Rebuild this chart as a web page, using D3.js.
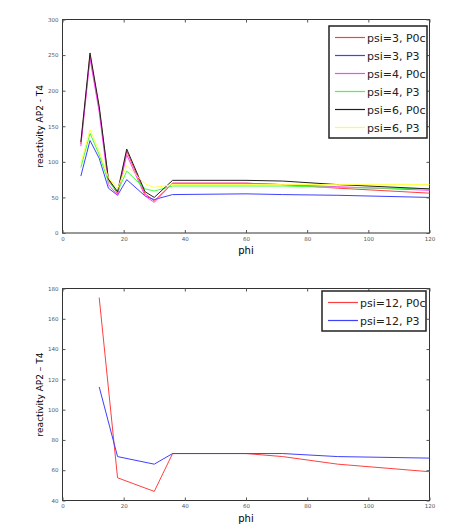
<!DOCTYPE html>
<html>
<head>
<script src="https://d3js.org/d3.v7.min.js"></script>
<style>body{margin:0;background:#fff}</style>
</head>
<body>
<script>
// top plot: phi values and series
var phiTop = [6, 9, 12, 15, 18, 21, 27, 30, 36, 60, 72, 90, 120];
var psi3P0c = [125, 250, 175, 75, 55, 115, 55, 45, 70, 70, 68, 63, 56];
var psi3P3  = [80, 130, 105, 63, 53, 75, 52, 47, 54, 55, 54, 53, 50];
var psi4P0c = [122, 245, 170, 68, 53, 110, 52, 43, 70, 70, 68, 65, 60];
var psi4P3  = [92, 140, 110, 72, 58, 87, 62, 59, 66, 66, 66, 64, 62];
var psi6P0c = [128, 253, 178, 76, 58, 118, 58, 50, 74, 74, 73, 68, 62];
var psi6P3  = [98, 145, 115, 78, 62, 95, 69, 64, 68, 68, 68, 68, 68];
// bottom plot
var phiBot = [12, 18, 30, 36, 60, 72, 90, 120];
var psi12P0c = [174, 55, 46, 71, 71, 69, 64, 59];
var psi12P3  = [115, 69, 64, 71, 71, 71, 69, 68];

var topSeries = [
  {name: "psi=3, P0c", color: "#ff4040", v: psi3P0c},
  {name: "psi=3, P3", color: "#4040ff", v: psi3P3},
  {name: "psi=4, P0c", color: "#ff40ff", v: psi4P0c},
  {name: "psi=4, P3", color: "#40ff40", v: psi4P3},
  {name: "psi=6, P0c", color: "#202020", v: psi6P0c},
  {name: "psi=6, P3", color: "#ffff40", v: psi6P3}
];
var botSeries = [
  {name: "psi=12, P0c", color: "#ff4040", v: psi12P0c},
  {name: "psi=12, P3", color: "#4040ff", v: psi12P3}
];

var svg = d3.select("body").append("svg").attr("width", 474).attr("height", 529);

function panel(o) {
  var x = d3.scaleLinear().domain([0, 120]).range([62.5, 429.5]);
  var y = d3.scaleLinear().domain(o.ydom).range([o.y1, o.y0]);
  var g = svg.append("g");
  g.append("rect").attr("x", 62.5).attr("y", o.y0).attr("width", 367).attr("height", o.y1 - o.y0)
    .attr("fill", "none").attr("stroke", "#333").attr("stroke-width", 1);
  var ax = [
    [d3.axisBottom(x).ticks(6), "translate(0," + o.y1 + ")", true],
    [d3.axisTop(x).ticks(6).tickFormat(""), "translate(0," + o.y0 + ")", false],
    [d3.axisLeft(y).tickValues(o.yticks), "translate(62.5,0)", true],
    [d3.axisRight(y).tickValues(o.yticks).tickFormat(""), "translate(429.5,0)", false]
  ];
  ax.forEach(function (a) {
    var s = g.append("g").attr("transform", a[1]).call(a[0].tickSizeInner(-3).tickSizeOuter(0).tickPadding(4));
    s.select(".domain").remove();
    s.selectAll("line").attr("stroke", "#555");
    s.selectAll("text").attr("font-size", 5.5).attr("fill", "#555").attr("font-family", "DejaVu Sans");
  });
  var line = d3.line().x(function (d) { return x(d[0]); }).y(function (d) { return y(d[1]); });
  o.series.forEach(function (s) {
    g.append("path").attr("d", line(o.phi.map(function (p, i) { return [p, s.v[i]]; })))
      .attr("fill", "none").attr("stroke", s.color).attr("stroke-width", 1);
  });
  g.append("text").attr("x", 246).attr("y", o.y1 + 21).attr("text-anchor", "middle")
    .attr("font-family", "DejaVu Sans").attr("font-size", 10).text("phi");
  g.append("text").attr("transform", "translate(43," + ((o.y0 + o.y1) / 2) + ") rotate(-90)")
    .attr("text-anchor", "middle").attr("font-family", "DejaVu Sans").attr("font-size", 9).text(o.ylabel);
  var L = o.legend;
  g.append("rect").attr("x", L.x).attr("y", L.y).attr("width", L.w).attr("height", o.series.length * 18 + 4)
    .attr("fill", "#fff").attr("stroke", "#222").attr("stroke-width", 1.5);
  o.series.forEach(function (s, i) {
    var yy = L.y + 11.5 + i * 18;
    g.append("line").attr("x1", L.x + 6).attr("x2", L.x + 36).attr("y1", yy).attr("y2", yy)
      .attr("stroke", s.color).attr("stroke-width", 1.2);
    g.append("text").attr("x", L.x + 38).attr("y", yy + 4).attr("font-family", "DejaVu Sans")
      .attr("font-size", 11).attr("fill", "#222").text(s.name);
  });
}

panel({y0: 19.5, y1: 233, ydom: [0, 300], yticks: [0, 50, 100, 150, 200, 250, 300],
  phi: phiTop, series: topSeries, ylabel: "reactivity AP2 - T4", legend: {x: 329, y: 26, w: 98}});
panel({y0: 288.5, y1: 500.5, ydom: [40, 180], yticks: [40, 60, 80, 100, 120, 140, 160, 180],
  phi: phiBot, series: botSeries, ylabel: "reactivity AP2 \u2013 T4", legend: {x: 322, y: 291, w: 104}});
</script>
</body>
</html>
